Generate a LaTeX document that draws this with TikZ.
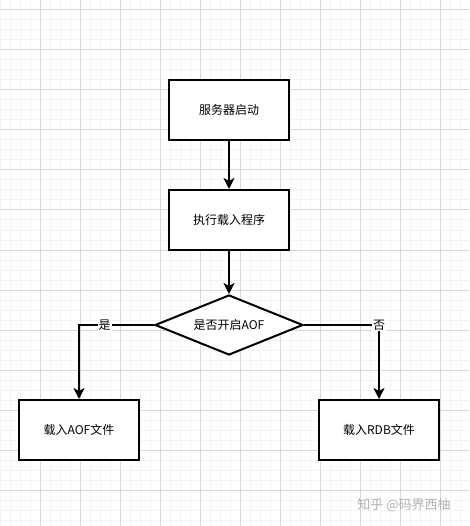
\documentclass[tikz,border=0pt]{standalone}
\usepackage{fontspec}
\setmainfont{Noto Sans CJK SC}
\usetikzlibrary{shapes.geometric,arrows.meta}

\definecolor{minorgrid}{HTML}{F4F4F4}
\definecolor{majorgrid}{HTML}{D9D9D9}
\definecolor{markgray}{HTML}{B0B0B0}

\begin{document}
\begin{tikzpicture}[x=1pt,y=-1pt,font=\fontsize{12}{14}\selectfont,
  stepbox/.style={draw, line width=2pt, fill=white, rectangle,
    minimum width=120pt, minimum height=60pt, inner sep=0pt},
  choice/.style={draw, line width=2pt, fill=white, diamond, aspect=2.47,
    minimum width=148pt, minimum height=60pt, inner sep=0pt},
  flow/.style={line width=2pt, -{Stealth[length=11pt,width=11pt,inset=3pt]}},
  branch/.style={fill=white, inner sep=1pt}]

\useasboundingbox (0,0) rectangle (469,526);
\fill[white] (0,0) rectangle (469,526);

% background grid
\foreach \i in {0,10,...,460} \draw[minorgrid, line width=1pt] (\i,0) -- (\i,526);
\foreach \j in {0,10,...,520} \draw[minorgrid, line width=1pt] (0,\j) -- (469,\j);
\foreach \i in {40,80,...,440} \draw[majorgrid, line width=1pt] (\i,0) -- (\i,526);
\foreach \j in {10,50,...,490} \draw[majorgrid, line width=1pt] (0,\j) -- (469,\j);

\node[stepbox] (start) at (229,110) {服务器启动};
\node[stepbox] (load) at (229,220) {执行载入程序};
\node[choice] (aof) at (229,325) {是否开启AOF};
\node[stepbox] (loadaof) at (79,430) {载入AOF文件};
\node[stepbox] (loadrdb) at (379,430) {载入RDB文件};

\draw[flow] (start) -- (load);
\draw[flow] (load) -- (aof);
\draw[flow] (aof.west) -| node[branch, pos=0.33] {是} (loadaof.north);
\draw[flow] (aof.east) -| node[branch, pos=0.5] {否} (loadrdb.north);

\node[markgray, font=\fontsize{13}{15}\selectfont] (mark) at (404,505) {知乎 @码界西柚};

\end{tikzpicture}
\end{document}
